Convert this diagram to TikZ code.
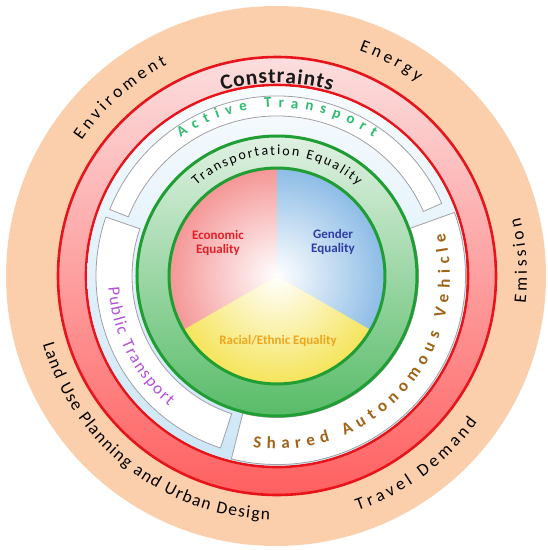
\documentclass[tikz,border=0pt]{standalone}
\usepackage{fontspec}
\setmainfont{Carlito}
\definecolor{peach}{RGB}{251,207,172}
\definecolor{ringtop}{RGB}{252,222,222}
\definecolor{ringbot}{RGB}{255,96,96}
\definecolor{redline}{RGB}{232,20,28}
\definecolor{bluetop}{RGB}{247,251,254}
\definecolor{bluebot}{RGB}{204,230,246}
\definecolor{seggray}{RGB}{160,160,165}
\definecolor{greentop}{RGB}{224,241,227}
\definecolor{greenbot}{RGB}{88,188,104}
\definecolor{greenline}{RGB}{32,158,52}
\definecolor{piered}{RGB}{245,150,150}
\definecolor{pieblue}{RGB}{140,188,230}
\definecolor{pieyellow}{RGB}{245,228,90}
\definecolor{econred}{RGB}{230,30,40}
\definecolor{genblue}{RGB}{45,60,170}
\definecolor{racorange}{RGB}{240,165,30}
\definecolor{atgreen}{RGB}{45,188,112}
\definecolor{ptpurple}{RGB}{180,80,215}
\definecolor{savbrown}{RGB}{160,100,25}
\definecolor{textdark}{RGB}{25,25,25}
% place one character: angle, rotation, radius, format, char
\newcommand\ctplace[5]{\begin{scope}[shift={(#1:#3)}, rotate=#2]\pgftext[base]{#4#5}\end{scope}}
\ExplSyntaxOn
\dim_new:N \l_ct_total_dim
\dim_new:N \l_ct_pos_dim
\dim_new:N \l_ct_w_dim
\box_new:N \l_ct_box
\tl_new:N \l_ct_ang_tl
\tl_new:N \l_ct_rot_tl
% #1 direction (1 = clockwise, tops outward; -1 = counter-clockwise, tops inward)
% #2 center angle, #3 baseline radius, #4 format, #5 extra letter space, #6 text
\cs_new_protected:Npn \curvetext #1#2#3#4#5#6
  {
    \dim_zero:N \l_ct_total_dim
    \str_map_inline:nn {#6}
      {
        \hbox_set:Nn \l_ct_box { \pgfinterruptpicture #4 ##1 \endpgfinterruptpicture }
        \dim_add:Nn \l_ct_total_dim { \box_wd:N \l_ct_box + #5 }
      }
    \dim_sub:Nn \l_ct_total_dim {#5}
    \dim_set:Nn \l_ct_pos_dim { -0.5\l_ct_total_dim }
    \str_map_inline:nn {#6}
      {
        \hbox_set:Nn \l_ct_box { \pgfinterruptpicture #4 ##1 \endpgfinterruptpicture }
        \dim_set:Nn \l_ct_w_dim { \box_wd:N \l_ct_box }
        \tl_set:Nx \l_ct_ang_tl
          { \fp_eval:n { round( (#2) - (#1) * ( \dim_to_fp:n { \l_ct_pos_dim + 0.5\l_ct_w_dim } ) / (#3) * 180 / pi , 4) } }
        \tl_set:Nx \l_ct_rot_tl { \fp_eval:n { round( \l_ct_ang_tl - (#1) * 90 , 4) } }
        \exp_args:NVV \ctplace \l_ct_ang_tl \l_ct_rot_tl {#3} {#4} {##1}
        \dim_add:Nn \l_ct_pos_dim { \l_ct_w_dim + #5 }
      }
  }
\ExplSyntaxOff
\tikzset{
  redcirc/.style={draw=redline, line width=2.6pt},
  greencirc/.style={draw=greenline, line width=3pt},
  segment/.style={draw=seggray, line width=0.8pt, fill=white},
  pielabel/.style={font=\bfseries\fontsize{13}{14}\selectfont, align=center, inner sep=0pt},
}
\begin{document}
\begin{tikzpicture}[x=1pt,y=1pt]
\useasboundingbox (-277,-274) rectangle (271,276);
\coordinate (O) at (0,0);
% outer peach disk
\fill[peach] (-1,0) circle (270);
% constraints ring
\shade[even odd rule, top color=ringtop, bottom color=ringbot] (O) circle (219) circle (191);
\draw[redcirc] (O) circle (219);
\draw[redcirc] (O) circle (191);
% light blue band
\shade[even odd rule, top color=bluetop, bottom color=bluebot] (O) circle (189.7) circle (140);
% segments
\draw[segment] (158.3:180) arc[start angle=158.3, end angle=23.8, radius=180]
  -- (23.8:160) arc[start angle=23.8, end angle=158.3, radius=160] -- cycle;
\draw[segment] (161:181) arc[start angle=161, end angle=251.8, radius=181]
  -- (251.8:145) arc[start angle=251.8, end angle=161, radius=145] -- cycle;
\draw[segment] (-104:188.5) arc[start angle=-104, end angle=19.7, radius=188.5]
  -- (19.7:141.5) arc[start angle=19.7, end angle=-104, radius=141.5] -- cycle;
% green ring
\shade[even odd rule, top color=greentop, bottom color=greenbot] (O) circle (140) circle (108);
% pie sectors
\begin{scope}
  \clip (O) -- (90:108) arc[start angle=90, end angle=210, radius=108] -- cycle;
  \shade[inner color=white, outer color=piered] (O) circle (108);
\end{scope}
\begin{scope}
  \clip (O) -- (-30:108) arc[start angle=-30, end angle=90, radius=108] -- cycle;
  \shade[inner color=white, outer color=pieblue] (O) circle (108);
\end{scope}
\begin{scope}
  \clip (O) -- (210:108) arc[start angle=210, end angle=330, radius=108] -- cycle;
  \shade[inner color=white, outer color=pieyellow] (O) circle (108);
\end{scope}
\draw[greencirc] (O) circle (140);
\draw[greencirc] (O) circle (108);
% pie labels
\node[pielabel, text=econred] (econ) at (-59,33.5) {Economic\\Equality};
\node[pielabel, text=genblue] (gender) at (56,34) {Gender\\Equality};
\node[pielabel, text=racorange] (racial) at (1,-65) {Racial/Ethnic Equality};
% curved texts
\curvetext{1}{90}{193}{\color{textdark}\bfseries\fontsize{21.5}{21.5}\selectfont}{0.9pt}{Constraints}
\curvetext{1}{90}{168.5}{\color{atgreen}\bfseries\fontsize{15}{15}\selectfont}{6.8pt}{Active Transport}
\curvetext{1}{90}{121}{\color{black}\fontsize{14}{14}\selectfont}{1.95pt}{Transportation Equality}
\curvetext{1}{131.3}{238}{\color{black}\fontsize{17.5}{17.5}\selectfont}{3.6pt}{Enviroment}
\curvetext{1}{62}{240}{\color{black}\fontsize{17.5}{17.5}\selectfont}{3.6pt}{Energy}
\curvetext{-1}{3.6}{250}{\color{black}\fontsize{17.5}{17.5}\selectfont}{3.4pt}{Emission}
\curvetext{-1}{-53.5}{248}{\color{black}\fontsize{17.5}{17.5}\selectfont}{3.6pt}{Travel Demand}
\curvetext{-1}{232.3}{244}{\color{black}\fontsize{17.5}{17.5}\selectfont}{1.4pt}{Land Use Planning and Urban Design}
\curvetext{-1}{207}{169}{\color{ptpurple}\fontsize{17}{17}\selectfont}{1.6pt}{Public Transport}
\curvetext{-1}{-41.8}{173}{\color{savbrown}\bfseries\fontsize{17}{17}\selectfont}{5.8pt}{Shared Autonomous Vehicle}
\end{tikzpicture}
\end{document}
